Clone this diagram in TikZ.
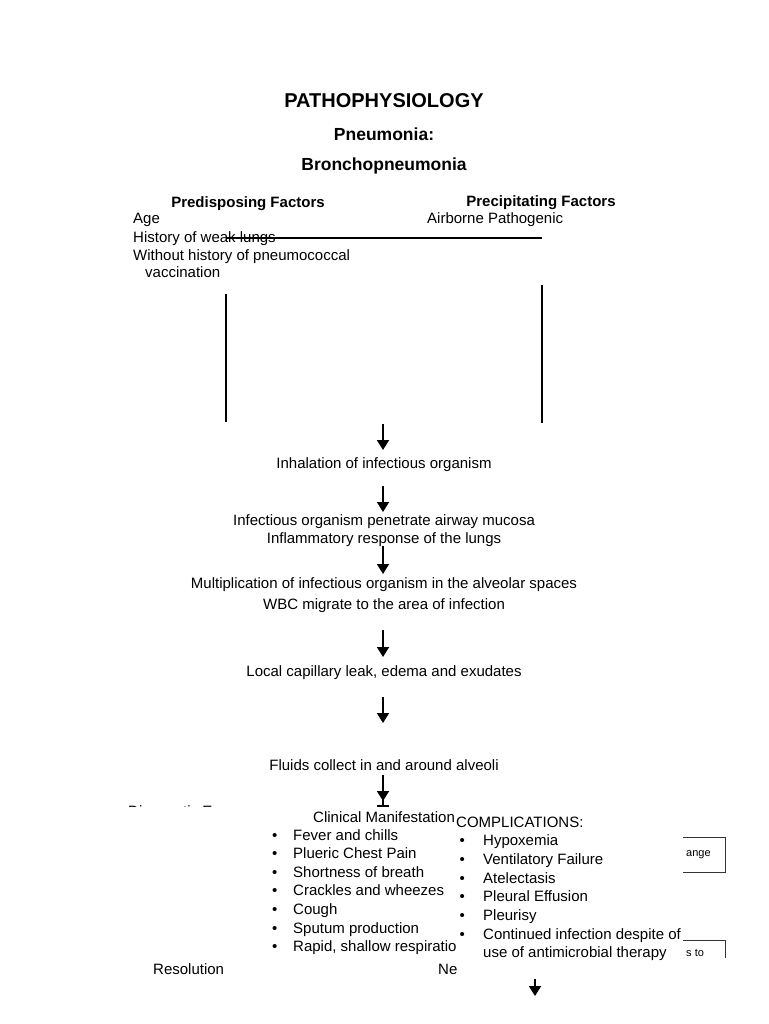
\documentclass[tikz,border=0pt]{standalone}
\usepackage{fontspec}
\setmainfont{Liberation Sans}
\usetikzlibrary{arrows.meta}
\begin{document}
\begin{tikzpicture}[x=1pt,y=-1pt,
  txt/.style={inner sep=0pt,anchor=base west,font=\fontsize{15}{18}\selectfont},
  ctxt/.style={inner sep=0pt,anchor=base,font=\fontsize{15}{18}\selectfont},
  head/.style={inner sep=0pt,anchor=base,font=\fontsize{15}{18}\selectfont\bfseries},
  small/.style={inner sep=0pt,anchor=base west,font=\fontsize{11}{13}\selectfont},
  flow/.style={line width=1.8pt,-{Triangle[length=10pt,width=12pt]}},
  rule/.style={line width=1.5pt},
  vrule/.style={line width=2pt},
  boxline/.style={line width=1pt,color=black!80}]
\useasboundingbox[fill=white] (0,0) rectangle (768,1024);
% titles
\node[inner sep=0pt,anchor=base,font=\fontsize{20}{24}\selectfont\bfseries] (title) at (384,108) {PATHOPHYSIOLOGY};
\node[inner sep=0pt,anchor=base,font=\fontsize{17.5}{21}\selectfont\bfseries] (pn) at (384,141) {Pneumonia:};
\node[inner sep=0pt,anchor=base,font=\fontsize{17.5}{21}\selectfont\bfseries] (bp) at (384,171) {Bronchopneumonia};
% factors
\node[head] (pred) at (248,208) {Predisposing Factors};
\node[head] (prec) at (541,207) {Precipitating Factors};
\node[txt] (age) at (133,224) {Age};
\node[txt] (air) at (427,224) {Airborne Pathogenic};
\node[txt] (hist) at (133,242) {History of weak lungs};
\node[txt] (with) at (133,260) {Without history of pneumococcal};
\node[txt] (vacc) at (145,277) {vaccination};
\coordinate (hl1) at (226,238); \coordinate (hl2) at (542,238);
\draw[rule] (hl1) -- (hl2);
\coordinate (vl1) at (226,294); \coordinate (vl2) at (226,422);
\coordinate (vr1) at (542,285); \coordinate (vr2) at (542,423);
\draw[vrule] (vl1) -- (vl2);
\draw[vrule] (vr1) -- (vr2);
% flow
\coordinate (a1s) at (383,424); \coordinate (a1e) at (383,450);
\draw[flow] (a1s) -- (a1e);
\node[ctxt] (inh) at (384,468) {Inhalation of infectious organism};
\coordinate (a2s) at (383,486); \coordinate (a2e) at (383,512);
\draw[flow] (a2s) -- (a2e);
\node[ctxt] (pen) at (384,525) {Infectious organism penetrate airway mucosa};
\node[ctxt] (inf) at (384,543) {Inflammatory response of the lungs};
\coordinate (a3s) at (383,546); \coordinate (a3e) at (383,574);
\draw[flow] (a3s) -- (a3e);
\node[ctxt] (mul) at (384,588) {Multiplication of infectious organism in the alveolar spaces};
\node[ctxt] (wbc) at (384,609) {WBC migrate to the area of infection};
\coordinate (a4s) at (383,630); \coordinate (a4e) at (383,657);
\draw[flow] (a4s) -- (a4e);
\node[ctxt] (loc) at (384,676) {Local capillary leak, edema and exudates};
\coordinate (a5s) at (383,697); \coordinate (a5e) at (383,723);
\draw[flow] (a5s) -- (a5e);
\node[ctxt] (flu) at (384,770) {Fluids collect in and around alveoli};
\coordinate (a6s) at (383,775); \coordinate (a6e) at (383,801);
\draw[flow] (a6s) -- (a6e);
\coordinate (t1) at (383,798); \coordinate (t2) at (383,806);
\coordinate (t3) at (377,806); \coordinate (t4) at (389,806);
\draw[line width=1.4pt] (t1) -- (t2);
\draw[line width=1.4pt] (t3) -- (t4);
% clipped diagnostic text
\begin{scope}
\clip (100,795) rectangle (320,806);
\node[txt] (diag) at (128,816) {Diagnostic Exam};
\end{scope}
% clinical manifestation
\node[txt] (clin) at (313,822) {Clinical Manifestation};
\foreach \y/\t [count=\i] in {840/Fever and chills,858/Plueric Chest Pain,877/Shortness of breath,895/Crackles and wheezes,914/Cough,933/Sputum production,951/{Rapid, shallow respiratio}}{
  \node[txt] (cb\i) at (272,\y) {•};
  \node[txt] (ct\i) at (293,\y) {\t};
}
% complications
\node[txt] (comp) at (456,827) {COMPLICATIONS:};
\foreach \y/\t [count=\i] in {845/Hypoxemia,864/Ventilatory Failure,883/Atelectasis,901/Pleural Effusion,920/Pleurisy,939/Continued infection despite of}{
  \node[txt] (kb\i) at (459.5,\y) {•};
  \node[txt] (kt\i) at (483,\y) {\t};
}
\node[txt] (kt7) at (483,957) {use of antimicrobial therapy};
% right partial boxes
\coordinate (b1a) at (683,837); \coordinate (b1b) at (725,837);
\coordinate (b1c) at (725,872); \coordinate (b1d) at (683,872);
\draw[boxline] (b1a) -- (b1b) -- (b1c) -- (b1d);
\node[small] (ange) at (686,856) {ange};
\coordinate (b2a) at (683,940); \coordinate (b2b) at (725,940);
\coordinate (b2c) at (725,958);
\draw[boxline] (b2a) -- (b2b) -- (b2c);
\node[small] (sto) at (686,956) {s to};
% bottom
\node[txt] (res) at (153,974) {Resolution};
\node[txt] (ne) at (438,974) {Ne};
\coordinate (a7s) at (535,979); \coordinate (a7e) at (535,996);
\draw[flow] (a7s) -- (a7e);
\end{tikzpicture}
\end{document}
